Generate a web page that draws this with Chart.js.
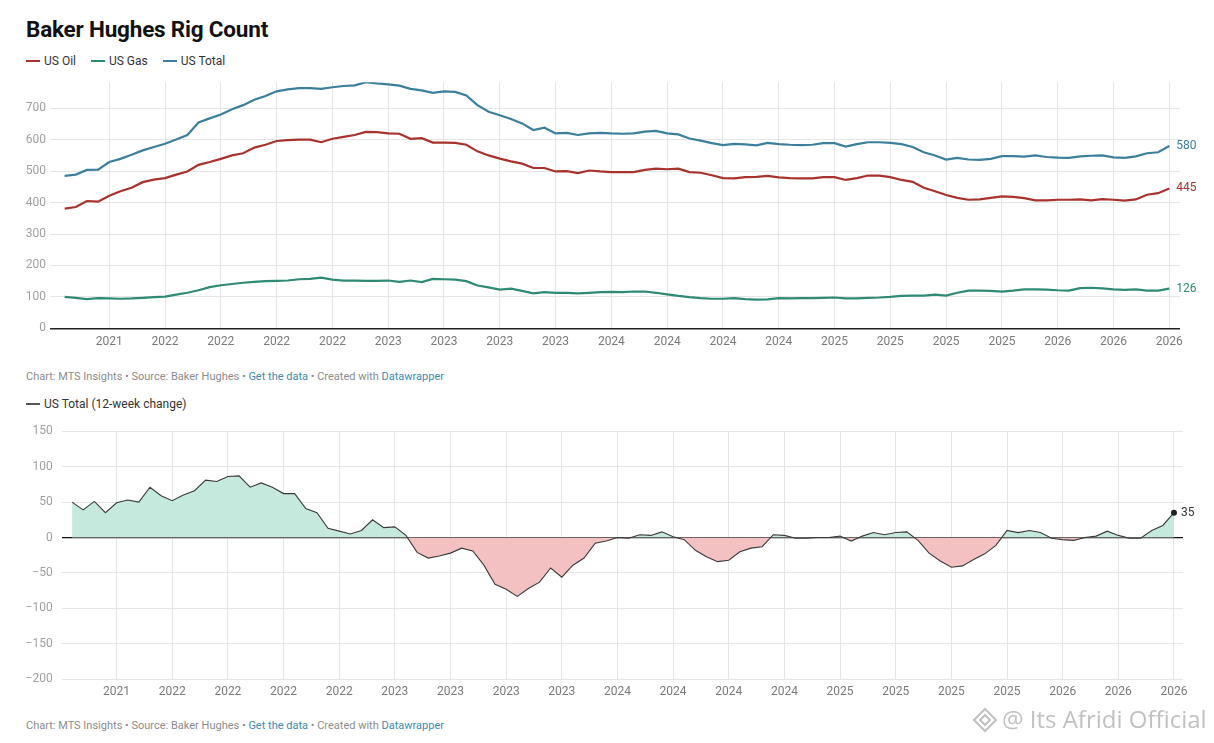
<!DOCTYPE html>
<html>
<head>
<meta charset="utf-8">
<script src="https://cdn.jsdelivr.net/npm/chart.js@4/dist/chart.umd.min.js"></script>
<style>
  html, body { margin: 0; padding: 0; background: #fff; }
  body { width: 1214px; height: 743px; position: relative; overflow: hidden; font-family: Roboto, sans-serif; color: #333; }
  .title { position: absolute; left: 26px; top: 16px; font-size: 22.5px; font-weight: 700; color: #111; letter-spacing: -0.2px; }
  .legend { position: absolute; left: 26px; font-size: 12px; color: #333; white-space: nowrap; }
  .legend span.item { display: inline-block; margin-right: 12px; }
  .legend i { display: inline-block; width: 14px; height: 2px; vertical-align: middle; margin-right: 4px; position: relative; top: -1px; }
  .footer { position: absolute; left: 26px; font-size: 11px; color: #8c8c8c; white-space: nowrap; }
  .footer a { color: #3c8bb0; text-decoration: none; }
  canvas { position: absolute; left: 0; }
  .wm { position: absolute; left: 972px; top: 702px; font-family: "Open Sans", sans-serif; font-size: 24px; color: rgba(140,140,140,0.55); white-space: nowrap; }
  .wm svg { vertical-align: middle; margin-right: 4px; position: relative; top: -2px; }
</style>
</head>
<body>
<div class="title">Baker Hughes Rig Count</div>
<div class="legend" style="top:54px">
  <span class="item"><i style="background:#a8322d"></i>US Oil</span>
  <span class="item"><i style="background:#2e8a75"></i>US Gas</span>
  <span class="item"><i style="background:#3b7f9b"></i>US Total</span>
</div>
<canvas id="top" width="1214" height="290" style="top:71px;width:1214px;height:290px"></canvas>
<div class="footer" style="top:370px">Chart: MTS Insights • Source: Baker Hughes • <a>Get the data</a> • Created with <a>Datawrapper</a></div>
<div class="legend" style="top:397px"><i style="background:#555"></i>US Total (12-week change)</div>
<canvas id="bottom" width="1214" height="290" style="top:415px;width:1214px;height:290px"></canvas>
<div class="footer" style="top:719px">Chart: MTS Insights • Source: Baker Hughes • <a>Get the data</a> • Created with <a>Datawrapper</a></div>
<div class="wm"><svg width="26" height="26" viewBox="0 0 26 26"><g fill="none" stroke="rgba(140,140,140,0.55)" stroke-width="2"><path d="M13 2 L24 13 L13 24 L2 13 Z"/><path d="M13 8 L18 13 L13 18 L8 13 Z"/></g></svg>@ Its Afridi Official</div>

<script>
// tick labels of the date axis (one every 5 samples)
const tickLabels = ['2021','2022','2022','2022','2022','2023','2023','2023','2023','2024','2024','2024','2024','2025','2025','2025','2025','2026','2026','2026'];

const usOil = [381,386,405,403,422,436,447,465,473,478,
  489,499,520,529,539,550,557,575,584,596,
  599,600,600,592,603,609,615,625,624,620,
  619,603,605,591,591,590,584,563,550,540,
  531,524,510,510,499,500,494,502,499,497,
  497,497,504,508,506,508,497,495,487,478,
  477,481,482,485,480,478,477,477,481,481,
  472,478,486,486,481,472,466,447,436,424,
  415,409,410,415,420,418,414,407,407,409,
  409,410,407,411,409,406,410,425,430,445];

const usGas = [100,97,93,96,95,94,95,97,99,101,
  107,113,121,131,137,141,145,148,150,151,
  152,156,157,161,155,152,152,151,151,152,
  148,152,147,157,156,155,150,136,130,123,
  126,119,111,115,113,113,111,113,115,116,
  115,117,117,113,108,103,99,96,94,94,
  96,93,91,92,96,95,96,96,97,98,
  95,95,97,98,100,103,104,104,107,104,
  113,120,120,119,117,120,124,124,123,121,
  120,128,129,127,124,122,124,120,120,126];

const usTotal = [485,489,504,505,529,539,552,566,577,587,
  601,615,655,668,680,697,710,727,739,754,
  760,764,764,762,767,771,773,783,779,776,
  772,762,757,749,754,752,741,710,689,678,
  666,652,631,638,620,622,615,620,622,620,
  619,620,626,628,620,617,604,597,589,583,
  587,585,582,590,586,584,583,584,589,589,
  578,586,592,592,590,586,577,560,550,537,
  542,537,536,539,548,548,546,550,545,543,
  542,547,549,550,544,542,547,557,560,580];

const change12w = [50,39,51,35,49,53,50,71,59,52,
  60,66,81,79,86,87,71,77,71,62,
  62,41,35,13,9,5,10,25,14,15,
  3,-21,-29,-26,-22,-15,-19,-39,-66,-73,
  -83,-72,-63,-43,-56,-39,-29,-8,-5,0,
  -1,4,3,8,1,-3,-18,-27,-34,-32,
  -20,-15,-13,4,3,-1,-1,0,0,2,
  -5,2,7,4,7,8,-4,-22,-33,-42,
  -40,-31,-23,-11,10,7,10,7,-1,-3,
  -4,0,2,9,3,-1,-1,10,17,35];

const oilColor = '#a8322d', gasColor = '#2e8a75', totalColor = '#3b7f9b';

Chart.defaults.font.family = 'Roboto';
Chart.defaults.font.size = 12;
Chart.defaults.animation = false;

const tickIdx = tickLabels.map((_, k) => 4 + k * 5);
const pts = arr => arr.map((v, i) => ({x: i, y: v}));

const endLabels = {
  id: 'endLabels',
  afterDatasetsDraw(chart) {
    const ctx = chart.ctx;
    ctx.save();
    ctx.font = '12px Roboto';
    ctx.textBaseline = 'middle';
    chart.data.datasets.forEach((ds, di) => {
      const meta = chart.getDatasetMeta(di);
      const p = meta.data[meta.data.length - 1];
      ctx.fillStyle = ds.labelColor || ds.borderColor;
      ctx.fillText(ds.data[ds.data.length - 1].y, p.x + 7, p.y);
    });
    ctx.restore();
  }
};

function xScale(min, max, pad) {
  return {
    type: 'linear', min: min, max: max,
    afterBuildTicks: s => { s.ticks = tickIdx.map(v => ({value: v})); },
    afterFit: s => { s.height = pad.h; },
    ticks: { autoSkip: false, maxRotation: 0, color: '#7a7a7a', padding: pad.p,
      callback: v => tickLabels[tickIdx.indexOf(v)] },
    grid: { color: '#e6e6e6', drawTicks: false },
    border: { display: false }
  };
}

new Chart(document.getElementById('top'), {
  type: 'line',
  data: {
    datasets: [
      { label: 'US Oil', data: pts(usOil), borderColor: oilColor },
      { label: 'US Gas', data: pts(usGas), borderColor: gasColor },
      { label: 'US Total', data: pts(usTotal), borderColor: totalColor }
    ]
  },
  options: {
    responsive: false,
    layout: { padding: { top: 9, right: 34, left: 0, bottom: 0 } },
    elements: { line: { borderWidth: 2.2, tension: 0 }, point: { radius: 0 } },
    plugins: { legend: { display: false }, tooltip: { enabled: false } },
    scales: {
      x: xScale(-1.31, 99.96, {h: 32.7, p: 6.5}),
      y: {
        min: 0, max: 783,
        afterBuildTicks: s => { s.ticks = s.ticks.filter(t => t.value % 100 === 0); },
        afterFit: s => { s.width = 50; },
        ticks: { stepSize: 100, color: '#a0a0a0', padding: 4 },
        grid: { drawTicks: false, color: c => c.tick && c.tick.value === 0 ? '#222' : '#e6e6e6',
          lineWidth: c => c.tick && c.tick.value === 0 ? 1.4 : 1 },
        border: { display: false }
      }
    }
  },
  plugins: [endLabels]
});

new Chart(document.getElementById('bottom'), {
  type: 'line',
  data: {
    datasets: [{
      label: 'US Total (12-week change)',
      data: pts(change12w),
      borderColor: '#3a3a3a',
      borderWidth: 1.1,
      labelColor: '#333',
      fill: { target: { value: 0 }, above: '#c6e9de', below: '#f3c1c1' },
      pointRadius: change12w.map((v, i) => i === change12w.length - 1 ? 3 : 0),
      pointBackgroundColor: '#222',
      pointBorderWidth: 0
    }]
  },
  options: {
    responsive: false,
    layout: { padding: { top: 14.3, right: 31, left: 0, bottom: 0 } },
    elements: { line: { tension: 0 } },
    plugins: { legend: { display: false }, tooltip: { enabled: false } },
    scales: {
      x: xScale(-0.93, 99.81, {h: 25.7, p: 5.5}),
      y: {
        min: -200, max: 150,
        afterFit: s => { s.width = 61.7; },
        ticks: { stepSize: 50, color: '#a0a0a0', padding: 9,
          callback: v => v < 0 ? '\u2212' + Math.abs(v) : v },
        grid: { drawTicks: false, color: c => c.tick && c.tick.value === 0 ? '#111' : '#e6e6e6',
          lineWidth: c => c.tick && c.tick.value === 0 ? 1.3 : 1 },
        border: { display: false }
      }
    }
  },
  plugins: [endLabels]
});
</script>
</body>
</html>
